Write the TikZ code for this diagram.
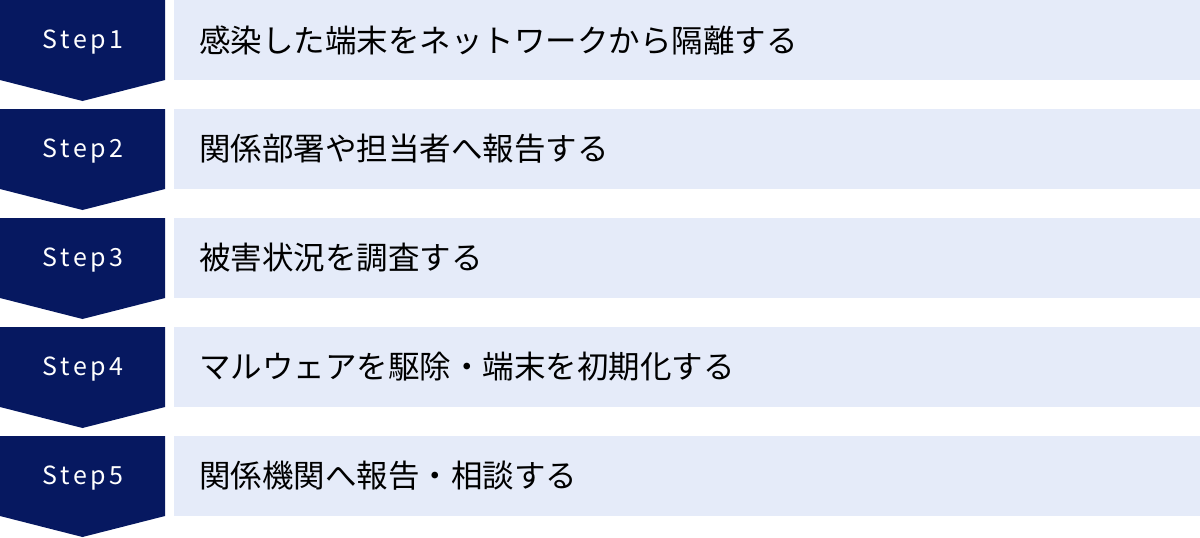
\documentclass[tikz,border=0pt]{standalone}
\usepackage{fontspec}
\setmainfont{Noto Sans CJK JP}
\newfontfamily\stepfont[LetterSpace=14]{Noto Sans CJK JP}
\definecolor{stepnavy}{RGB}{6,24,96}
\definecolor{stepbg}{RGB}{229,235,249}
\tikzset{
  steplabel/.style={text=white,font=\stepfont\fontsize{25}{30}\selectfont,inner sep=0pt},
  tasklabel/.style={anchor=west,text=black,font=\fontsize{31.5}{36}\selectfont,inner sep=0pt},
}
\begin{document}
\begin{tikzpicture}[x=1pt,y=-1pt]
  \useasboundingbox (0,0) rectangle (1200,538);
  \foreach[count=\i,evaluate={(\i-1)*109} as \y] \txt in {感染した端末をネットワークから隔離する,関係部署や担当者へ報告する,被害状況を調査する,マルウェアを駆除・端末を初期化する,関係機関へ報告・相談する} {
    \fill[stepnavy] (0,\y) -- (165,\y) -- (165,\y+80) -- (82.5,\y+101) -- (0,\y+80) -- cycle;
    \fill[stepbg] (174,\y) rectangle (1200,\y+80);
    \node[steplabel] (step\i) at (83,\y+42.5) {Step\i};
    \node[tasklabel] (task\i) at (199,\y+40) {\txt};
  }
\end{tikzpicture}
\end{document}
